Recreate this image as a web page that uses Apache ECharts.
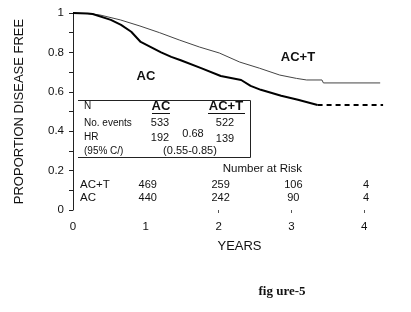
<!DOCTYPE html>
<html>
<head>
<meta charset="utf-8">
<script src="https://cdn.jsdelivr.net/npm/echarts@6/dist/echarts.min.js"></script>
<style>
  html, body { margin: 0; padding: 0; background: #fff; }
  #main { width: 411px; height: 312px; }
</style>
</head>
<body>
<div id="main"></div>
<script>

/*Disease free survival*/

// ______Curve data (years, proportion disease free)
var actTimes = [0, 0.2, 0.37, 0.65, 0.92, 1.19, 1.46, 1.74, 2.01, 2.29, 2.56, 2.84, 3.07, 3.21, 3.42, 3.44, 4.22];
var actValues = [1, 0.997, 0.99, 0.965, 0.934, 0.9, 0.863, 0.827, 0.797, 0.751, 0.72, 0.685, 0.668, 0.66, 0.66, 0.645, 0.645];

var acTimes = [0, 0.2, 0.27, 0.52, 0.66, 0.8, 0.93, 1.07, 1.21, 1.35, 1.48, 1.76, 2.03, 2.31, 2.44, 2.58, 2.86, 3.09, 3.36];
var acValues = [1, 0.997, 0.995, 0.965, 0.94, 0.905, 0.853, 0.827, 0.8, 0.777, 0.76, 0.72, 0.68, 0.66, 0.63, 0.61, 0.58, 0.56, 0.533];

// censored tail of AC, drawn dashed
var acTailTimes = [3.36, 4.26];
var acTailValues = [0.533, 0.533];

// ______Ticks
var xTickLabels = [0, 1, 2, 3, 4];
var xTickMarks = [2, 3, 4];
var yTickLabels = [0, 0.2, 0.4, 0.6, 0.8, 1];

// ______Number at risk
var riskTimes = [1, 2, 3, 4];
var riskACT = [469, 259, 106, 4];
var riskAC = [440, 242, 90, 4];

// ______Summary table
var tableRows = ['N', 'No. events', 'HR', '(95% C/)'];
var tableAC = ['533', '192'];
var tableACT = ['522', '139'];
var hazardRatio = '0.68';
var hazardCI = '(0.55-0.85)';

function pairs(xs, ys) {
	return xs.map(function (x, i) { return [x, ys[i]]; });
}

var FONT = '"Liberation Sans", Arial, Helvetica, sans-serif';

var chart = document.getElementById('main');
var lineChart = echarts.init(chart, null, { renderer: 'canvas' });

var option = {
	animation: false,
	backgroundColor: '#fff',
	textStyle: { fontFamily: FONT },
	grid: {
		left: 73,
		right: 25,
		top: 13,
		bottom: 102
	},
	xAxis: {
		type: 'value',
		min: 0,
		max: 4.3,
		interval: 1,
		name: 'YEARS',
		nameLocation: 'middle',
		nameGap: 30,
		nameTextStyle: {
			fontFamily: FONT,
			fontSize: 13,
			color: '#111',
			padding: [0, 0, 0, 20]
		},
		splitLine: { show: false },
		axisLine: { show: false },
		axisTick: {
			show: true,
			customValues: xTickMarks,
			length: 3,
			lineStyle: { color: '#555', width: 1 }
		},
		axisLabel: {
			customValues: xTickLabels,
			margin: 11,
			fontSize: 11.5,
			color: '#111',
			fontFamily: FONT
		}
	},
	yAxis: {
		type: 'value',
		min: 0,
		max: 1,
		interval: 0.1,
		name: 'PROPORTION DISEASE FREE',
		nameLocation: 'middle',
		nameGap: 47,
		nameTextStyle: {
			fontFamily: FONT,
			fontSize: 13,
			color: '#111'
		},
		splitLine: { show: false },
		axisLine: {
			show: true,
			lineStyle: { color: '#222', width: 1 }
		},
		axisTick: {
			show: true,
			length: 4,
			lineStyle: { color: '#222', width: 1 }
		},
		axisLabel: {
			customValues: yTickLabels,
			margin: 9,
			fontSize: 11.5,
			color: '#111',
			fontFamily: FONT,
			formatter: function (v) {
				if (v === 0 || v === 1) return String(v);
				return v.toFixed(1);
			}
		}
	},
	series: [
		{
			name: 'AC+T',
			type: 'line',
			data: pairs(actTimes, actValues),
			showSymbol: false,
			lineStyle: { color: '#444', width: 1 },
			z: 3
		},
		{
			name: 'AC',
			type: 'line',
			data: pairs(acTimes, acValues),
			showSymbol: false,
			lineStyle: { color: '#000', width: 2 },
			z: 4
		},
		{
			name: 'AC tail',
			type: 'line',
			data: pairs(acTailTimes, acTailValues),
			showSymbol: false,
			lineStyle: { color: '#000', width: 1.8, type: [5, 4] },
			z: 4
		}
	]
};

lineChart.setOption(option);

/*Annotations*/

function xPix(t) {
	return lineChart.convertToPixel({ xAxisIndex: 0 }, t);
}

var txt = function (x, y, s, opts) {
	opts = opts || {};
	return {
		type: 'text',
		x: x,
		y: y,
		style: {
			text: s,
			fill: opts.fill || '#111',
			font: (opts.weight || 'normal') + ' ' + (opts.size || 10) + 'px ' + (opts.family || FONT),
			textAlign: opts.align || 'left',
			textVerticalAlign: 'middle'
		}
	};
};

var graphics = [];

// curve labels
graphics.push(txt(146, 76, 'AC', { weight: 'bold', size: 13, align: 'center' }));
graphics.push(txt(298, 57, 'AC+T', { weight: 'bold', size: 13, align: 'center' }));

// summary box (open on the left)
graphics.push({
	type: 'polyline',
	shape: { points: [[78, 100.5], [250.5, 100.5], [250.5, 157.5], [78, 157.5]] },
	style: { stroke: '#222', lineWidth: 1, fill: null }
});

var rowY = [106, 123, 137, 151];
tableRows.forEach(function (r, i) {
	graphics.push(txt(84, rowY[i], r, { size: 10 }));
});
graphics.push(txt(161, 106, 'AC', { weight: 'bold', size: 13, align: 'center' }));
graphics.push(txt(226, 106, 'AC+T', { weight: 'bold', size: 13, align: 'center' }));
graphics.push({ type: 'line', shape: { x1: 152, y1: 113.5, x2: 170, y2: 113.5 }, style: { stroke: '#111', lineWidth: 1 } });
graphics.push({ type: 'line', shape: { x1: 208, y1: 113.5, x2: 245, y2: 113.5 }, style: { stroke: '#111', lineWidth: 1 } });
graphics.push(txt(160, 123, tableAC[0], { size: 11, align: 'center' }));
graphics.push(txt(225, 123, tableACT[0], { size: 11, align: 'center' }));
graphics.push(txt(160, 138, tableAC[1], { size: 11, align: 'center' }));
graphics.push(txt(193, 134, hazardRatio, { size: 11, align: 'center' }));
graphics.push(txt(225, 139, tableACT[1], { size: 11, align: 'center' }));
graphics.push(txt(190, 151, hazardCI, { size: 11, align: 'center' }));

// number at risk
graphics.push(txt(302, 169, 'Number at Risk', { size: 11.5, align: 'right' }));
graphics.push(txt(80, 185, 'AC+T', { size: 11.5 }));
graphics.push(txt(80, 198, 'AC', { size: 11.5 }));
riskTimes.forEach(function (t, i) {
	var px = xPix(t);
	graphics.push(txt(px + 2, 185, String(riskACT[i]), { size: 11, align: 'center' }));
	graphics.push(txt(px + 2, 198, String(riskAC[i]), { size: 11, align: 'center' }));
});

// caption
graphics.push(txt(282, 292, 'fig ure-5', { weight: 'bold', size: 13, align: 'center', family: '"Liberation Serif", "DejaVu Serif", serif' }));

lineChart.setOption({ graphic: graphics });

/*Disease free survival*/

</script>
</body>
</html>
